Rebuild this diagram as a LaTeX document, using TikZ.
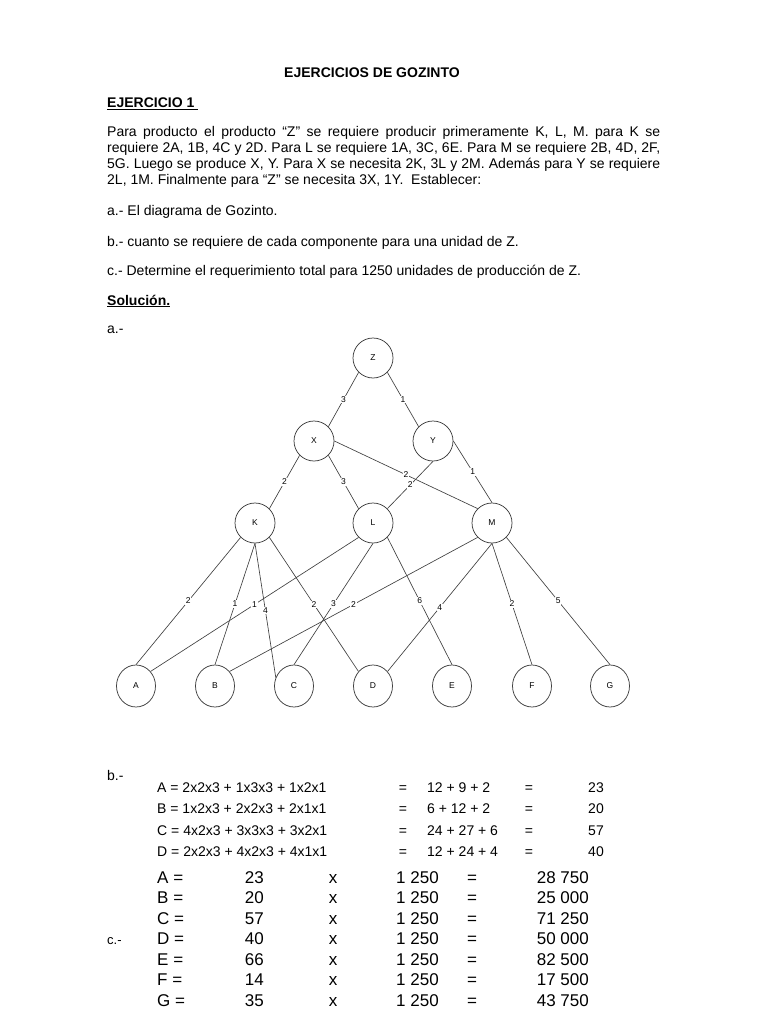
\documentclass[tikz,border=0pt]{standalone}
\usepackage{fontspec}
\setmainfont{Liberation Sans}
\usetikzlibrary{shapes.geometric,positioning}

\begin{document}
\begin{tikzpicture}[x=1pt, y=-1pt,
    part/.style  = {circle, draw=black!75, line width=0.75pt, minimum size=40pt,
                    inner sep=0pt, font=\fontsize{8.5}{10}\selectfont},
    leaf/.style  = {ellipse, draw=black!75, line width=0.75pt, minimum width=39pt,
                    minimum height=42pt, inner sep=0pt, font=\fontsize{8.5}{10}\selectfont},
    link/.style  = {draw=black!75, line width=0.65pt},
    qty/.style   = {fill=white, inner sep=0.8pt, font=\fontsize{8.5}{10}\selectfont},
    txt/.style   = {anchor=base west, inner sep=0pt, font=\fontsize{14}{16}\selectfont},
    big/.style   = {inner sep=0pt, font=\fontsize{17}{20}\selectfont}
  ]
  \path[fill=white, use as bounding box] (0,0) rectangle (768,1024);

  % enunciado
  \node[txt, anchor=base, font=\fontsize{14}{16}\selectfont\bfseries] (titulo) at (372,78) {EJERCICIOS DE GOZINTO};
  \node[txt, font=\fontsize{14}{16}\selectfont\bfseries] (ejer) at (107,108) {\underline{EJERCICIO 1\ }};
  \node[txt, anchor=north west, text width=553pt, align=justify] (enun) at (107,126.5)
    {Para producto el producto “Z” se requiere producir primeramente K, L, M. para K se\linebreak
     requiere 2A, 1B, 4C y 2D. Para L se requiere 1A, 3C, 6E. Para M se requiere 2B, 4D, 2F,\linebreak
     5G. Luego se produce X, Y. Para X se necesita 2K, 3L y 2M. Además para Y se requiere\linebreak
     2L, 1M. Finalmente para “Z” se necesita 3X, 1Y.~ Establecer:};
  \node[txt] (pa) at (107,216) {a.- El diagrama de Gozinto.};
  \node[txt] (pb) at (107,246) {b.- cuanto se requiere de cada componente para una unidad de Z.};
  \node[txt] (pc) at (107,275) {c.- Determine el requerimiento total para 1250 unidades de producción de Z.};
  \node[txt, font=\fontsize{14}{16}\selectfont\bfseries] (sol) at (107,305) {\underline{Solución.}};
  \node[txt] (sa) at (107,333) {a.-};

  % diagrama de Gozinto
  \node[part] (Z) at (373,358) {Z};
  \node[part] (X) at (314,441) {X};
  \node[part] (Y) at (433,441) {Y};
  \node[part] (K) at (255,523) {K};
  \node[part] (L) at (373,523) {L};
  \node[part] (M) at (492,523) {M};
  \foreach \n/\x in {A/136, B/215, C/294, D/373, E/452, F/532, G/610}
    \node[leaf] (\n) at (\x,686) {\n};

  \draw[link] (Z.-135) -- node[qty] {3} (X.45);
  \draw[link] (Z.-45)  -- node[qty] {1} (Y.135);
  \draw[link] (X.-135) -- node[qty] {2} (K.45);
  \draw[link] (X.-45)  -- node[qty] {3} (L.135);
  \draw[link] (X.east) -- node[qty, pos=0.5] {2} (M.135);
  \draw[link] (Y.south) -- node[qty] {2} (L.45);
  \draw[link] (Y.east) -- node[qty] {1} (M.north);
  \draw[link] (K.-135) -- node[qty] {2} (A.north);
  \draw[link] (K.south) -- node[qty] {1} (B.north);
  \draw[link] (K.south) -- node[qty] {4} (C.155);
  \draw[link] (K.-45)  -- node[qty] {2} (D.135);
  \draw[link] (L.-135) -- node[qty] {1} (A.45);
  \draw[link] (L.south) -- node[qty] {3} (C.north);
  \draw[link] (L.-45)  -- node[qty] {6} (E.north);
  \draw[link] (M.-135) -- node[qty] {2} (B.45);
  \draw[link] (M.south) -- node[qty] {4} (D.45);
  \draw[link] (M.south) -- node[qty] {2} (F.north);
  \draw[link] (M.-45)  -- node[qty] {5} (G.north);

  % b.- requerimiento por unidad
  \node[txt] (sb) at (107,780) {b.-};
  \foreach \r/\y/\f/\s/\t in {1/792/A = 2x2x3 + 1x3x3 + 1x2x1/12 + 9 + 2/23,
                              2/813/B = 1x2x3 + 2x2x3 + 2x1x1/6 + 12 + 2/20,
                              3/835/C = 4x2x3 + 3x3x3 + 3x2x1/24 + 27 + 6/57,
                              4/856/D = 2x2x3 + 4x2x3 + 4x1x1/12 + 24 + 4/40} {
    \node[txt] (bf\r) at (157,\y) {\f};
    \node[txt, anchor=base] (be\r) at (403,\y) {=};
    \node[txt] (bs\r) at (427,\y) {\s};
    \node[txt, anchor=base] (bq\r) at (529,\y) {=};
    \node[txt, anchor=base east] (bt\r) at (604,\y) {\t};
  }

  % c.- requerimiento total
  \node[txt, font=\fontsize{13}{15}\selectfont] (sc) at (107,944) {c.-};
  \foreach \r/\y/\n/\u/\t in {A/883/23/28 750, B/903.5/20/25 000, C/924/57/71 250,
                              D/944.5/40/50 000, E/965/66/82 500, F/985.5/14/17 500,
                              G/1006/35/43 750} {
    \node[big, anchor=base west] (cl\r) at (157,\y) {\r\ =};
    \node[big, anchor=base east] (cn\r) at (264,\y) {\n};
    \node[big, anchor=base] (cx\r) at (333,\y) {x};
    \node[big, anchor=base west] (cm\r) at (396,\y) {1 250};
    \node[big, anchor=base] (ce\r) at (472,\y) {=};
    \node[big, anchor=base east] (ct\r) at (589,\y) {\u};
  }
\end{tikzpicture}
\end{document}
